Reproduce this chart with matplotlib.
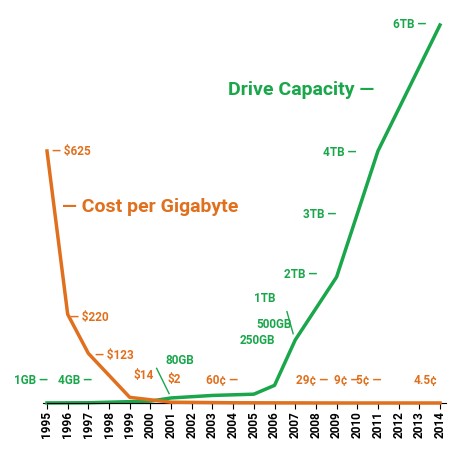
import matplotlib.pyplot as plt

years_cap = [1995, 1997, 2000, 2001, 2003, 2004, 2005, 2006, 2007, 2009, 2011, 2014]
capacity_tb = [0.001, 0.004, 0.03, 0.08, 0.12, 0.13, 0.14, 0.28, 1.0, 2.0, 4.0, 6.0]

years_cost = [1995, 1996, 1997, 1999, 2001, 2004, 2007, 2009, 2010, 2014]
cost_gb = [625, 220, 123, 14, 2, 0.6, 0.29, 0.09, 0.05, 0.045]

GREEN = '#1aa64a'
ORANGE = '#e0701e'
W, H = 474, 459
plt.rcParams['font.family'] = ['Roboto', 'DejaVu Sans']

fig = plt.figure(figsize=(W / 100, H / 100), dpi=100)
ax = fig.add_axes([47 / W, (H - 403) / H, (440 - 47) / W, (403 - 25) / H])
ax2 = ax.twinx()
ax.set_xlim(1995, 2014)
ax.set_ylim(0, 6)
ax2.set_ylim(0, 625 * 6 / 4)

ax.plot(years_cap, capacity_tb, color=GREEN, lw=2.5, clip_on=False, zorder=3)
ax2.plot(years_cost, cost_gb, color=ORANGE, lw=2.5, clip_on=False, zorder=3)

for a in (ax, ax2):
    for s in ('top', 'left', 'right'):
        a.spines[s].set_visible(False)
    a.set_yticks([])
ax.spines['bottom'].set_bounds(1994.8, 2014.3)
ax.set_xticks(range(1995, 2015))
ax.set_xticklabels([str(y) for y in range(1995, 2015)], rotation=90, fontsize=8.5,
                   fontweight='bold')
ax.tick_params(axis='x', length=4, pad=2)


def label(px, py, s, color, size=8.5, ha='left'):
    fig.text(px / W, 1 - py / H, s, color=color, fontsize=size, ha=ha, va='center',
             fontweight='bold')


green_labels = [(14, 380, '1GB —'), (58, 380, '4GB —'), (166, 360, '80GB'),
                (240, 341, '250GB'), (256, 325, '500GB'), (254, 299, '1TB'),
                (284, 275, '2TB —'), (303, 215, '3TB —'), (323, 152, '4TB —'),
                (393, 25, '6TB —')]
for px, py, s in green_labels:
    label(px, py, s, GREEN)
ax.plot([2000.3, 2000.9], [0.55, 0.15], color=GREEN, lw=1)
ax.plot([2006.6, 2006.9], [1.45, 1.1], color=GREEN, lw=1)
label(228, 90, 'Drive Capacity —', GREEN, size=14)

orange_labels = [(52, 152, '— $625'), (70, 318, '— $220'), (95, 356, '— $123'),
                 (134, 375, '$14'), (168, 380, '$2'), (206, 380, '60¢ —'),
                 (296, 380, '29¢ —'), (334, 380, '9¢ —'), (356, 380, '5¢ —'),
                 (414, 380, '4.5¢')]
for px, py, s in orange_labels:
    label(px, py, s, ORANGE)
label(62, 207, '— Cost per Gigabyte', ORANGE, size=14)

fig.savefig('out.png', dpi=100)
